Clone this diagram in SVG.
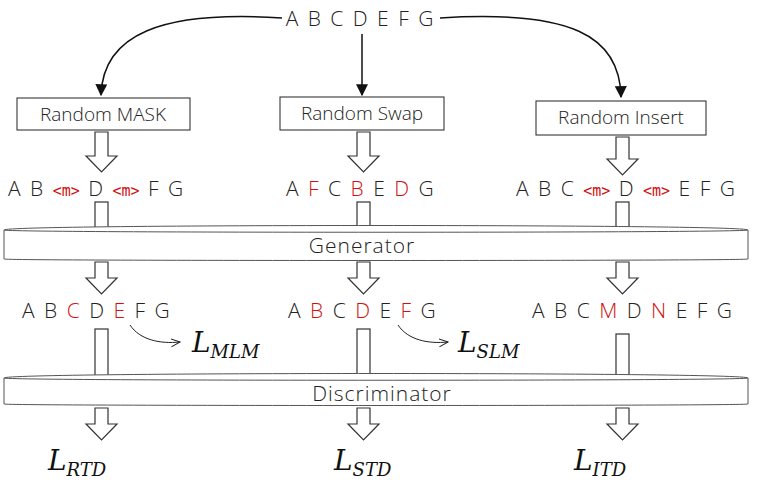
<svg xmlns="http://www.w3.org/2000/svg" width="759" height="484" viewBox="0 0 759 484">
<defs>
<style>
.t{font-family:"Open Sans","Noto Sans",sans-serif;font-weight:300;font-size:21px;fill:#222;letter-spacing:1px;word-spacing:2px}
.r{fill:#d01010}
.m{font-family:"DejaVu Sans Mono",monospace;font-size:15px;fill:#d01010;letter-spacing:0}
.box{fill:#fff;stroke:#222;stroke-width:1}
.bt{letter-spacing:0;word-spacing:0;font-size:19px}
.ba{fill:#fff;stroke:#333;stroke-width:1.2}
.band{fill:#fff;stroke:#555;stroke-width:1}
.c{fill:none;stroke:#111;stroke-width:1.5}
.cs{fill:none;stroke:#222;stroke-width:1}
.L{font-family:"DejaVu Serif","Liberation Serif",serif;font-style:italic;font-size:28px;fill:#111}
.s{font-size:18px}
</style>
<marker id="ah" viewBox="0 0 10 10" refX="9" refY="5" markerWidth="8" markerHeight="8" orient="auto"><path d="M0,0L10,5L0,10z" fill="#111"/></marker>
<marker id="oh" viewBox="0 0 10 10" refX="9" refY="5" markerWidth="10" markerHeight="10" orient="auto" markerUnits="userSpaceOnUse"><path d="M0,1L9,5L0,9" fill="none" stroke="#222"/></marker>
</defs>
<g id="connectors">
<path class="c" d="M282,18 C160,10 103,35 101,95" marker-end="url(#ah)"/>
<path class="c" d="M362,34 L362,95" marker-end="url(#ah)"/>
<path class="c" d="M440,18 C570,10 620,35 621,97" marker-end="url(#ah)"/>
<path class="cs" d="M130,325 C140,340 160,344 180,342" marker-end="url(#oh)"/>
<path class="cs" d="M398,325 C408,340 428,344 448,342" marker-end="url(#oh)"/>
</g>
<g id="source"><text class="t" x="360" y="26" text-anchor="middle">A B C D E F G</text></g>
<g id="mask"><rect class="box" x="17" y="98" width="173" height="32"/><text class="t bt" x="103" y="121" text-anchor="middle">Random MASK</text></g>
<g id="swap"><rect class="box" x="280" y="97" width="164" height="33"/><text class="t bt" x="362" y="120" text-anchor="middle">Random Swap</text></g>
<g id="insert"><rect class="box" x="536" y="101" width="170" height="34"/><text class="t bt" x="621" y="124" text-anchor="middle">Random Insert</text></g>
<g id="arrows1">
<path class="ba" d="M95,132h13v24h9l-15.5,16l-15.5,-16h9z"/>
<path class="ba" d="M357,132h13v24h9l-15.5,16l-15.5,-16h9z"/>
<path class="ba" d="M616,137h13v22h9l-15.5,16l-15.5,-16h9z"/>
</g>
<g id="row1">
<text class="t" x="8" y="196">A B <tspan class="m">&lt;m&gt;</tspan> D <tspan class="m">&lt;m&gt;</tspan> F G</text>
<text class="t" x="286" y="196">A <tspan class="r">F</tspan> C <tspan class="r">B</tspan> E <tspan class="r">D</tspan> G</text>
<text class="t" x="516" y="196">A B C <tspan class="m">&lt;m&gt;</tspan> D <tspan class="m">&lt;m&gt;</tspan> E F G</text>
</g>
<g id="shafts1">
<rect class="ba" x="95" y="202" width="13" height="30"/>
<rect class="ba" x="357" y="202" width="13" height="30"/>
<rect class="ba" x="616" y="202" width="13" height="30"/>
</g>
<g id="generator">
<path class="band" d="M4,230 C4,224 748,224 748,230 L748,259 C748,261 4,261 4,259 Z"/>
<path class="band" fill="none" d="M4,230 C4,233 748,233 748,230"/>
<text class="t" x="362" y="253" text-anchor="middle">Generator</text>
</g>
<g id="arrows2">
<path class="ba" d="M95,262h13v16h9l-15.5,16l-15.5,-16h9z"/>
<path class="ba" d="M357,262h13v16h9l-15.5,16l-15.5,-16h9z"/>
<path class="ba" d="M616,262h13v16h9l-15.5,16l-15.5,-16h9z"/>
</g>
<g id="row2">
<text class="t" x="22" y="318">A B <tspan class="r">C</tspan> D <tspan class="r">E</tspan> F G</text>
<text class="t" x="288" y="318">A <tspan class="r">B</tspan> C <tspan class="r">D</tspan> E <tspan class="r">F</tspan> G</text>
<text class="t" x="532" y="318">A B C <tspan class="r">M</tspan> D <tspan class="r">N</tspan> E F G</text>
</g>
<g id="L_MLM"><text class="L" x="192" y="352">L<tspan class="s" dy="6">MLM</tspan></text></g>
<g id="L_SLM"><text class="L" x="458" y="352">L<tspan class="s" dy="6">SLM</tspan></text></g>
<g id="shafts2">
<rect class="ba" x="95" y="329" width="13" height="50"/>
<rect class="ba" x="357" y="329" width="13" height="50"/>
<rect class="ba" x="616" y="334" width="13" height="45"/>
</g>
<g id="discriminator">
<path class="band" d="M4,378 C4,372 748,372 748,378 L748,404 C748,406 4,406 4,404 Z"/>
<path class="band" fill="none" d="M4,378 C4,381 748,381 748,378"/>
<text class="t" x="382" y="401" text-anchor="middle">Discriminator</text>
</g>
<g id="arrows3">
<path class="ba" d="M95,408h13v16h9l-15.5,16l-15.5,-16h9z"/>
<path class="ba" d="M357,408h13v16h9l-15.5,16l-15.5,-16h9z"/>
<path class="ba" d="M616,408h13v16h9l-15.5,16l-15.5,-16h9z"/>
</g>
<g id="L_RTD"><text class="L" x="48" y="470">L<tspan class="s" dy="6">RTD</tspan></text></g>
<g id="L_STD"><text class="L" x="334" y="470">L<tspan class="s" dy="6">STD</tspan></text></g>
<g id="L_ITD"><text class="L" x="574" y="470">L<tspan class="s" dy="6">ITD</tspan></text></g>
</svg>
